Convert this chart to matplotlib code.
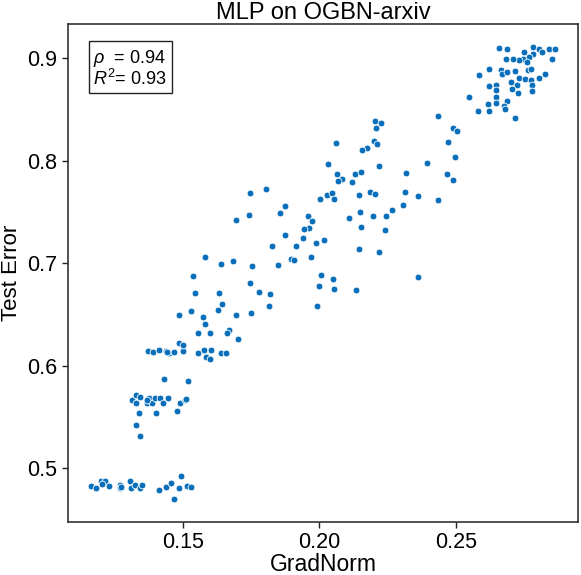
import numpy as np
import matplotlib.pyplot as plt

plt.rcParams['font.family'] = ['Liberation Sans', 'DejaVu Sans']
plt.rcParams['mathtext.fontset'] = 'custom'
plt.rcParams['mathtext.rm'] = 'Liberation Sans'
plt.rcParams['mathtext.it'] = 'Liberation Sans:italic'

# GradNorm / Test Error pairs

# lowest band (~0.48)
low_x = [0.1162, 0.1181, 0.1198, 0.1211, 0.1226, 0.1266, 0.1268, 0.1305, 0.1309, 0.1323,
         0.1342, 0.1348, 0.1411, 0.1437, 0.1454, 0.1467, 0.1484, 0.1492, 0.1512, 0.1528,
         0.1200, 0.1270]
low_y = [0.483, 0.481, 0.487, 0.487, 0.483, 0.484, 0.481, 0.487, 0.481, 0.484,
         0.481, 0.484, 0.479, 0.482, 0.486, 0.470, 0.481, 0.492, 0.483, 0.482,
         0.485, 0.482]

# second band (~0.56)
mid_x = [0.1313, 0.1326, 0.1327, 0.1342, 0.1366, 0.1376, 0.1384, 0.1396, 0.1415, 0.1425,
         0.1445, 0.1431, 0.1516, 0.1488, 0.1507, 0.1476, 0.1339, 0.1400, 0.1327, 0.1341,
         0.1368, 0.1510]
mid_y = [0.566, 0.564, 0.571, 0.569, 0.564, 0.568, 0.564, 0.568, 0.568, 0.564,
         0.568, 0.587, 0.585, 0.564, 0.566, 0.556, 0.554, 0.554, 0.542, 0.531,
         0.566, 0.567]

# third band (~0.61)
band_x = [0.1372, 0.1388, 0.1412, 0.1437, 0.1448, 0.1467, 0.1485, 0.1498, 0.1498, 0.1553,
          0.1576, 0.1582, 0.1598, 0.1601, 0.1637, 0.1656, 0.1553, 0.1599, 0.1440]
band_y = [0.614, 0.613, 0.615, 0.614, 0.612, 0.613, 0.622, 0.614, 0.620, 0.612,
          0.615, 0.608, 0.606, 0.615, 0.612, 0.612, 0.632, 0.632, 0.613]

# spread-out middle region
spread_x = [0.1744, 0.1804, 0.1873, 0.1855, 0.1695, 0.1740, 0.1873, 0.1827, 0.1913, 0.1895,
            0.1580, 0.1639, 0.1683, 0.1751, 0.1849, 0.1534, 0.1745, 0.1543, 0.1631, 0.1779,
            0.1820, 0.1643, 0.1629, 0.1816, 0.1483, 0.1528, 0.1572, 0.1578, 0.1692, 0.1748,
            0.1667, 0.1659, 0.1700,
            0.2435, 0.2489, 0.2505, 0.2473, 0.2496, 0.2394, 0.2467, 0.2489, 0.2436, 0.2361,
            0.2318, 0.2313, 0.2305, 0.2266, 0.2245, 0.2241, 0.2218, 0.2361,
            0.2204, 0.2226, 0.2206, 0.2201, 0.2210, 0.2173, 0.2156, 0.2061, 0.2030, 0.2219,
            0.2063, 0.2082, 0.2068, 0.2131, 0.2154, 0.2118, 0.2003, 0.2027, 0.2045, 0.2055,
            0.2145, 0.2185, 0.2204,
            0.1956, 0.1973, 0.1960, 0.1943, 0.1939, 0.1988, 0.2015, 0.2109, 0.2147, 0.2196,
            0.2151, 0.2144, 0.1905, 0.1970, 0.2006, 0.2049, 0.1997, 0.2054, 0.2135, 0.1992]
spread_y = [0.768, 0.772, 0.756, 0.749, 0.742, 0.747, 0.727, 0.717, 0.717, 0.704,
            0.706, 0.699, 0.702, 0.697, 0.698, 0.687, 0.681, 0.671, 0.671, 0.672,
            0.670, 0.660, 0.654, 0.658, 0.649, 0.653, 0.647, 0.641, 0.649, 0.651,
            0.6345, 0.632, 0.626,
            0.8435, 0.832, 0.829, 0.818, 0.803, 0.798, 0.787, 0.781, 0.762, 0.7655,
            0.788, 0.769, 0.757, 0.752, 0.746, 0.732, 0.7105, 0.6866,
            0.839, 0.837, 0.832, 0.819, 0.816, 0.812, 0.810, 0.817, 0.797, 0.795,
            0.787, 0.782, 0.780, 0.787, 0.789, 0.779, 0.763, 0.766, 0.768, 0.763,
            0.7665, 0.769, 0.767,
            0.746, 0.741, 0.734, 0.733, 0.724, 0.720, 0.723, 0.744, 0.750, 0.746,
            0.735, 0.714, 0.703, 0.706, 0.6885, 0.6846, 0.678, 0.6745, 0.6735, 0.658]

# top-right cluster (~0.85-0.91)
top_x = [0.2658, 0.2688, 0.2784, 0.2806, 0.2842, 0.2864, 0.2817, 0.2784, 0.2768, 0.2750,
         0.2746, 0.2732, 0.2711, 0.2683, 0.2762, 0.2853, 0.2665, 0.2670, 0.2690, 0.2717,
         0.2732, 0.2764, 0.2778, 0.2756, 0.2777, 0.2804, 0.2829, 0.2703, 0.2725, 0.2779,
         0.2708, 0.2729, 0.2780, 0.2586, 0.2622, 0.2622, 0.2646, 0.2648, 0.2646, 0.2646,
         0.2617, 0.2689, 0.2677, 0.2681, 0.2583, 0.2622, 0.2719, 0.2548]
top_y = [0.910, 0.909, 0.911, 0.909, 0.909, 0.909, 0.9055, 0.904, 0.901, 0.9055,
         0.899, 0.898, 0.899, 0.899, 0.8957, 0.899, 0.888, 0.8847, 0.8864, 0.8876,
         0.8805, 0.8886, 0.8896, 0.880, 0.8786, 0.8805, 0.8847, 0.8766, 0.874, 0.874,
         0.870, 0.866, 0.868, 0.8837, 0.889, 0.8727, 0.874, 0.8688, 0.8623, 0.8561,
         0.8555, 0.8577, 0.8535, 0.8506, 0.848, 0.8483, 0.8411, 0.8616]

grad_norm = np.array(low_x + mid_x + band_x + spread_x + top_x)
test_error = np.array(low_y + mid_y + band_y + spread_y + top_y)

rho = 0.94
r2 = 0.93

fig = plt.figure(figsize=(5.81, 5.75), dpi=100)
ax = fig.add_axes([0.117, 0.093, 0.878, 0.865])

ax.scatter(grad_norm, test_error, s=24, color='#0a6fba', edgecolors='white',
           linewidths=0.6, zorder=3)

ax.margins(0.05)
ax.set_xticks([0.15, 0.20, 0.25])
ax.set_yticks([0.5, 0.6, 0.7, 0.8, 0.9])
ax.tick_params(direction='out', length=4, width=1, labelsize=15.5, color='#222222')
for side in ax.spines.values():
    side.set_color('#333333')
    side.set_linewidth(1.2)

ax.set_xlabel('GradNorm', fontsize=16.5, labelpad=0)
ax.set_ylabel('Test Error', fontsize=16, labelpad=4)
ax.set_title('MLP on OGBN-arxiv', fontsize=17, pad=4)

ax.text(0.05, 0.953, r'$\rho$  = ' + f'{rho:.2f}' + '\n' + r'$R^2$= ' + f'{r2:.2f}',
        transform=ax.transAxes, ha='left', va='top', fontsize=13, linespacing=1.0,
        bbox=dict(boxstyle='square,pad=0.25', facecolor='white', edgecolor='#222222',
                  linewidth=1))

fig.savefig('out.png', dpi=100)
